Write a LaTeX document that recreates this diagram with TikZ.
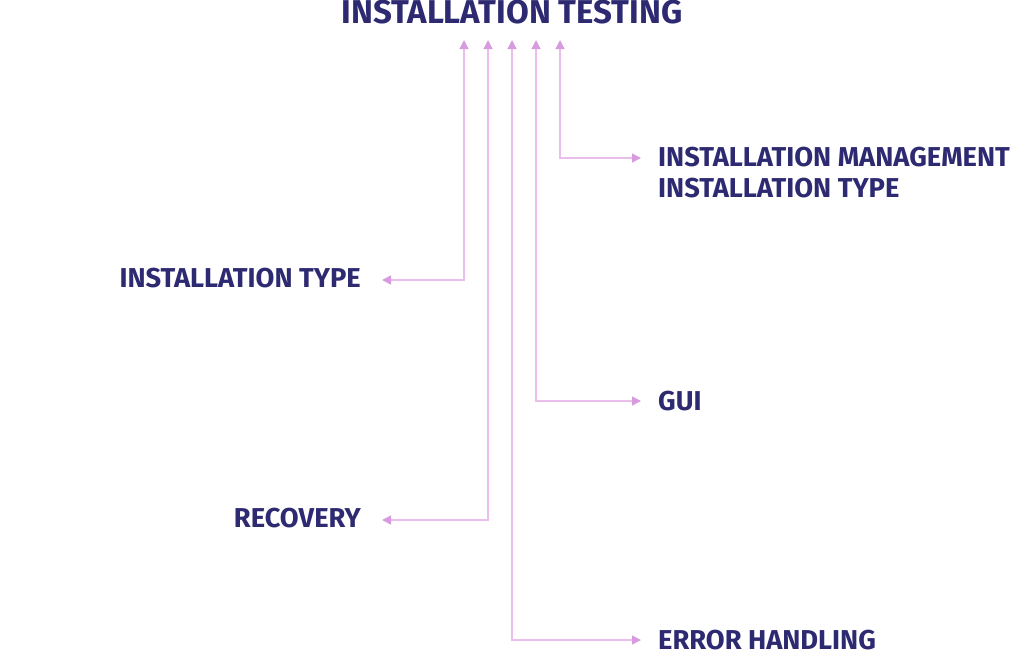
\documentclass[tikz,border=0pt]{standalone}
\usepackage{fontspec}
\setmainfont{Fira Sans}
\usetikzlibrary{arrows.meta}
\definecolor{navy}{HTML}{2E2A72}
\definecolor{pinkline}{HTML}{EBBDEB}
\definecolor{tipc}{HTML}{D99BE0}
\begin{document}
\begin{tikzpicture}[x=1pt,y=-1pt,
  lab/.style={text=navy,font=\fontsize{27.3}{31}\selectfont\bfseries,inner sep=0pt},
  conn/.style={draw=pinkline,line width=1.3pt,{Triangle[length=9pt,width=9pt,color=tipc]}-{Triangle[length=9pt,width=9pt,color=tipc]}}]
\useasboundingbox (0,0) rectangle (1024,665);
\node[lab,font=\fontsize{33}{36}\selectfont\bfseries] (title) at (512,12) {INSTALLATION TESTING};
\foreach \i/\x in {1/464,2/488,3/512,4/536,5/560}{\coordinate (t\i) at (\x,40);}
\coordinate (e1) at (382,280);
\coordinate (e2) at (382,520);
\coordinate (e3) at (641,640);
\coordinate (e4) at (641,401);
\coordinate (e5) at (641,158);
\node[lab,anchor=east] (l1) at (361,278) {INSTALLATION TYPE};
\node[lab,anchor=east] (l2) at (361,518) {RECOVERY};
\node[lab,anchor=west] (l3) at (658,640) {ERROR HANDLING};
\node[lab,anchor=west] (l4) at (658,401) {GUI};
\node[lab,anchor=west,align=left] (l5) at (658,173) {INSTALLATION MANAGEMENT\\INSTALLATION TYPE};
\foreach \i in {1,...,5}{\draw[conn] (t\i) |- (e\i);}
\end{tikzpicture}
\end{document}
